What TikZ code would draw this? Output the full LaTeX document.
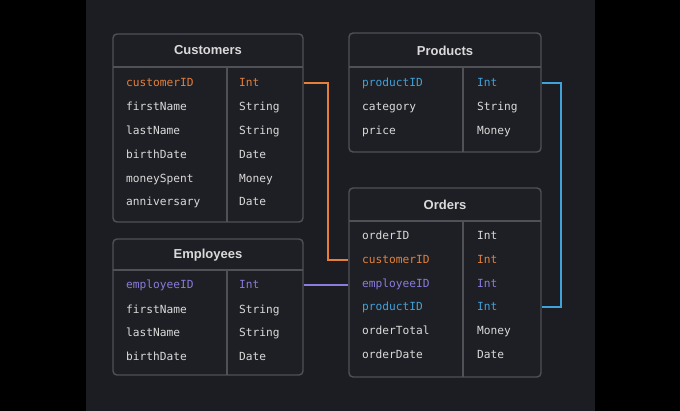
\documentclass[tikz,border=0pt]{standalone}
\usepackage{fontspec}
\setmainfont{Liberation Sans}
\newfontfamily\monof{DejaVu Sans Mono}
\definecolor{panelbg}{HTML}{1C1D22}
\definecolor{boxfill}{HTML}{1E1F24}
\definecolor{boxline}{HTML}{505157}
\definecolor{txt}{HTML}{DADADA}
\definecolor{kor}{HTML}{E5803A}
\definecolor{kbl}{HTML}{3FA2DA}
\definecolor{kpu}{HTML}{8A7BDC}
\tikzset{
  tbl/.style={draw=boxline, fill=boxfill, line width=1.4pt, rounded corners=4pt, inner sep=0pt},
  sep/.style={draw=boxline, line width=1.4pt},
  hdr/.style={text=txt, font=\fontsize{13}{15}\selectfont\bfseries, inner sep=0pt, anchor=center},
  cell/.style={text=txt, font=\monof\fontsize{11.2}{13}\selectfont, inner sep=0pt, anchor=west, text height=7.5pt, text depth=0pt},
  link/.style={line width=2.2pt},
}
\begin{document}
\begin{tikzpicture}[x=1pt,y=-1pt]
\useasboundingbox (0,0) rectangle (680,411);
\fill[black] (0,0) rectangle (680,411);
\fill[panelbg] (86,0) rectangle (595,411);

% Customers
\node[tbl, minimum width=190pt, minimum height=188pt] (cust) at (208,128) {};
\draw[sep] (113,67) -- (303,67);
\draw[sep] (227,67) -- (227,222);
\node[hdr] (custh) at (208,50.5) {Customers};
\node[cell, text=kor] (c1) at (126,83) {customerID};
\node[cell, text=kor] (c1t) at (239,83) {Int};
\node[cell] (c2) at (126,107) {firstName};
\node[cell] (c2t) at (239,107) {String};
\node[cell] (c3) at (126,131) {lastName};
\node[cell] (c3t) at (239,131) {String};
\node[cell] (c4) at (126,155) {birthDate};
\node[cell] (c4t) at (239,155) {Date};
\node[cell] (c5) at (126,179) {moneySpent};
\node[cell] (c5t) at (239,179) {Money};
\node[cell] (c6) at (126,202) {anniversary};
\node[cell] (c6t) at (239,202) {Date};

% Products
\node[tbl, minimum width=192pt, minimum height=119pt] (prod) at (445,92.5) {};
\draw[sep] (349,67) -- (541,67);
\draw[sep] (463,67) -- (463,152);
\node[hdr] (prodh) at (445,50.5) {Products};
\node[cell, text=kbl] (p1) at (362,83) {productID};
\node[cell, text=kbl] (p1t) at (477,83) {Int};
\node[cell] (p2) at (362,107) {category};
\node[cell] (p2t) at (477,107) {String};
\node[cell] (p3) at (362,131) {price};
\node[cell] (p3t) at (477,131) {Money};

% Orders
\node[tbl, minimum width=192pt, minimum height=189pt] (ord) at (445,282.5) {};
\draw[sep] (349,221) -- (541,221);
\draw[sep] (463,221) -- (463,377);
\node[hdr] (ordh) at (445,204.5) {Orders};
\node[cell] (o1) at (362,236) {orderID};
\node[cell] (o1t) at (477,236) {Int};
\node[cell, text=kor] (o2) at (362,260) {customerID};
\node[cell, text=kor] (o2t) at (477,260) {Int};
\node[cell, text=kpu] (o3) at (362,284) {employeeID};
\node[cell, text=kpu] (o3t) at (477,284) {Int};
\node[cell, text=kbl] (o4) at (362,307) {productID};
\node[cell, text=kbl] (o4t) at (477,307) {Int};
\node[cell] (o5) at (362,331) {orderTotal};
\node[cell] (o5t) at (477,331) {Money};
\node[cell] (o6) at (362,355) {orderDate};
\node[cell] (o6t) at (477,355) {Date};

% Employees
\node[tbl, minimum width=190pt, minimum height=136pt] (emp) at (208,307) {};
\draw[sep] (113,270) -- (303,270);
\draw[sep] (227,270) -- (227,375);
\node[hdr] (emph) at (208,255.5) {Employees};
\node[cell, text=kpu] (e1) at (126,285) {employeeID};
\node[cell, text=kpu] (e1t) at (239,285) {Int};
\node[cell] (e2) at (126,310) {firstName};
\node[cell] (e2t) at (239,310) {String};
\node[cell] (e3) at (126,333) {lastName};
\node[cell] (e3t) at (239,333) {String};
\node[cell] (e4) at (126,357) {birthDate};
\node[cell] (e4t) at (239,357) {Date};

% connectors
\draw[link, kor] (cust.east |- c1) -- ++(24.5,0) |- (ord.west |- o2);
\draw[link, kbl] (prod.east |- p1) -- ++(19,0) |- (ord.east |- o4);
\draw[link, kpu] (emp.east |- e1) -- (ord.west |- e1);
\end{tikzpicture}
\end{document}
